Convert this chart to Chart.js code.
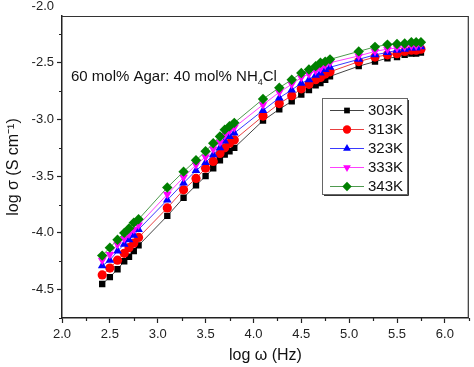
<!DOCTYPE html>
<html>
<head>
<meta charset="utf-8">
<script src="https://cdn.jsdelivr.net/npm/chart.js@4/dist/chart.umd.min.js"></script>
<style>
html,body{margin:0;padding:0;background:#fff;}
#wrap{width:474px;height:367px;position:relative;}
</style>
</head>
<body>
<div id="wrap"><canvas id="c" width="474" height="367"></canvas></div>
<script>
// ---- data ----
const logFreq = [2.42, 2.5, 2.58, 2.65, 2.7, 2.75, 2.8, 3.1, 3.27, 3.4, 3.5, 3.58, 3.65, 3.7, 3.75, 3.8, 4.1, 4.27, 4.4, 4.5, 4.58, 4.65, 4.7, 4.75, 4.8, 5.1, 5.27, 5.4, 5.5, 5.58, 5.65, 5.7, 5.75];
const s303K = [-4.45, -4.39, -4.32, -4.25, -4.21, -4.16, -4.11, -3.85, -3.69, -3.58, -3.50, -3.43, -3.36, -3.31, -3.28, -3.25, -3.01, -2.91, -2.84, -2.78, -2.74, -2.70, -2.68, -2.65, -2.62, -2.53, -2.49, -2.46, -2.45, -2.43, -2.42, -2.42, -2.41];
const s313K = [-4.37, -4.31, -4.24, -4.18, -4.13, -4.09, -4.04, -3.78, -3.62, -3.52, -3.43, -3.37, -3.30, -3.25, -3.21, -3.18, -2.97, -2.86, -2.79, -2.73, -2.69, -2.65, -2.63, -2.60, -2.58, -2.49, -2.45, -2.43, -2.42, -2.40, -2.39, -2.39, -2.38];
const s323K = [-4.29, -4.24, -4.16, -4.10, -4.06, -4.02, -3.97, -3.71, -3.56, -3.45, -3.38, -3.31, -3.25, -3.19, -3.15, -3.12, -2.92, -2.81, -2.74, -2.68, -2.65, -2.61, -2.59, -2.56, -2.54, -2.47, -2.43, -2.41, -2.39, -2.38, -2.37, -2.37, -2.36];
const s333K = [-4.24, -4.19, -4.10, -4.05, -4.01, -3.97, -3.93, -3.66, -3.51, -3.40, -3.33, -3.26, -3.20, -3.14, -3.10, -3.07, -2.87, -2.76, -2.69, -2.63, -2.60, -2.57, -2.55, -2.52, -2.50, -2.44, -2.40, -2.38, -2.37, -2.36, -2.35, -2.35, -2.34];
const s343K = [-4.20, -4.13, -4.06, -4.00, -3.96, -3.91, -3.88, -3.60, -3.46, -3.36, -3.28, -3.21, -3.15, -3.09, -3.06, -3.03, -2.82, -2.72, -2.65, -2.59, -2.56, -2.53, -2.50, -2.49, -2.47, -2.40, -2.36, -2.34, -2.335, -2.33, -2.32, -2.32, -2.32];
const seriesLabels = ['303K', '313K', '323K', '333K', '343K'];
const seriesValues = [s303K, s313K, s323K, s333K, s343K];
const xTicks = [2.0, 2.5, 3.0, 3.5, 4.0, 4.5, 5.0, 5.5, 6.0];
const xMinorTicks = [2.25, 2.75, 3.25, 3.75, 4.25, 4.75, 5.25, 5.75, 6.25];
const yTicks = [-4.5, -4.0, -3.5, -3.0, -2.5, -2.0];
const yMinorTicks = [-4.75, -4.25, -3.75, -3.25, -2.75, -2.25];
const xTitle = 'log \u03c9 (Hz)';
const yTitle = 'log \u03c3 (S cm\u207b\u00b9)';
const noteMain = '60 mol% Agar: 40 mol% NH';
const noteSub = '4';
const noteEnd = 'Cl';

// ---- styles ----
const markerColors = ['#000000', '#ff0000', '#0000ff', '#ff00ff', '#008000'];
const lineColors = ['#444444', '#e84040', '#3a3aff', '#ff40ff', '#4f9a4f'];
const markerStyles = ['rect', 'circle', 'triangle', 'triangle', 'rectRot'];
const markerRot = [0, 0, 0, 180, 0];
const markerRadius = [4.5, 4.6, 5, 5, 5.2];
const FONT = '"Liberation Sans", Arial, sans-serif';

const datasets = seriesLabels.map((lab, i) => ({
  label: lab,
  data: logFreq.map((x, j) => ({x: x, y: seriesValues[i][j]})),
  showLine: true,
  borderColor: lineColors[i],
  borderWidth: 1,
  backgroundColor: markerColors[i],
  pointBackgroundColor: markerColors[i],
  pointBorderColor: markerColors[i],
  pointBorderWidth: 0,
  pointStyle: markerStyles[i],
  pointRotation: markerRot[i],
  pointRadius: markerRadius[i],
  pointHoverRadius: markerRadius[i],
  order: 4 - i
}));

const decor = {
  id: 'decor',
  afterDraw(chart) {
    const ctx = chart.ctx;
    const a = chart.chartArea;
    const xs = chart.scales.x, ys = chart.scales.y;
    ctx.save();
    // frame top & right
    ctx.strokeStyle = '#333';
    ctx.lineWidth = 1.2;
    ctx.beginPath();
    ctx.moveTo(a.left, a.top + 0.5);
    ctx.lineTo(a.right - 0.5, a.top + 0.5);
    ctx.lineTo(a.right - 0.5, a.bottom);
    ctx.stroke();
    // minor ticks
    ctx.strokeStyle = '#222';
    ctx.lineWidth = 1.2;
    ctx.beginPath();
    xMinorTicks.forEach(v => {
      const px = Math.round(xs.getPixelForValue(v)) + 0.5;
      ctx.moveTo(px, a.bottom); ctx.lineTo(px, a.bottom + 3);
    });
    yMinorTicks.forEach(v => {
      const py = Math.round(ys.getPixelForValue(v)) + 0.5;
      ctx.moveTo(a.left, py); ctx.lineTo(a.left - 3, py);
    });
    ctx.stroke();
    // annotation text
    ctx.fillStyle = '#111';
    ctx.textBaseline = 'alphabetic';
    ctx.textAlign = 'left';
    ctx.font = '15px ' + FONT;
    let tx = 71, ty = 81;
    ctx.fillText(noteMain, tx, ty);
    tx += ctx.measureText(noteMain).width;
    ctx.font = '9px ' + FONT;
    ctx.fillText(noteSub, tx, ty + 4);
    tx += ctx.measureText(noteSub).width;
    ctx.font = '15px ' + FONT;
    ctx.fillText(noteEnd, tx, ty);
    // legend
    const lx = 322, ly = 98, lw = 85, lh = 96;
    ctx.fillStyle = '#fff';
    ctx.fillRect(lx, ly, lw, lh);
    ctx.strokeStyle = '#666';
    ctx.lineWidth = 1;
    ctx.strokeRect(lx + 0.5, ly + 0.5, lw, lh);
    ctx.strokeStyle = '#333';
    ctx.beginPath();
    ctx.moveTo(lx + lw + 1.5, ly + 2); ctx.lineTo(lx + lw + 1.5, ly + lh + 1.5); ctx.lineTo(lx + 2, ly + lh + 1.5);
    ctx.stroke();
    chart.data.datasets.forEach((ds, i) => {
      const yy = ly + 12 + i * 19;
      ctx.strokeStyle = lineColors[i];
      ctx.lineWidth = 1;
      ctx.beginPath();
      ctx.moveTo(lx + 8, yy + 0.5); ctx.lineTo(lx + 42, yy + 0.5);
      ctx.stroke();
      ctx.fillStyle = markerColors[i];
      ctx.strokeStyle = markerColors[i];
      Chart.helpers.drawPoint(ctx, {
        pointStyle: markerStyles[i], rotation: markerRot[i],
        radius: markerRadius[i] * 0.9, borderWidth: 0
      }, lx + 25, yy + 0.5);
      ctx.fillStyle = '#111';
      ctx.font = '15px ' + FONT;
      ctx.textBaseline = 'middle';
      ctx.fillText(ds.label, lx + 46, yy + 1);
    });
    ctx.restore();
  }
};

new Chart(document.getElementById('c'), {
  type: 'scatter',
  data: { datasets: datasets },
  options: {
    responsive: false,
    animation: false,
    events: [],
    layout: { padding: { left: 0, right: 3, top: 16, bottom: 0 } },
    plugins: { legend: { display: false }, tooltip: { enabled: false } },
    scales: {
      x: {
        type: 'linear',
        min: 2.0, max: 6.25,
        afterFit: s => { s.height = 49; },
        afterBuildTicks: s => { s.ticks = xTicks.map(v => ({value: v})); },
        border: { display: true, color: '#222', width: 1.5 },
        grid: { drawOnChartArea: false, drawTicks: true, tickLength: 5, tickWidth: 1.2, tickColor: '#222' },
        ticks: {
          padding: 4, color: '#222', font: { family: FONT, size: 13 },
          maxRotation: 0, autoSkip: false,
          callback: v => Number(v).toFixed(1)
        },
        title: { display: true, text: xTitle, color: '#111', font: { family: FONT, size: 16 }, padding: { top: 0, bottom: 2 } }
      },
      y: {
        type: 'linear',
        min: -4.75, max: -2.088,
        afterFit: s => { s.width = 62; },
        afterBuildTicks: s => { s.ticks = yTicks.map(v => ({value: v})); },
        border: { display: true, color: '#222', width: 1.5 },
        grid: {
          drawOnChartArea: false, drawTicks: true, tickLength: 5, tickWidth: 1.2,
          tickColor: c => (c.tick && c.tick.value > -2.05) ? 'rgba(0,0,0,0)' : '#222'
        },
        ticks: {
          padding: 3, color: '#222', font: { family: FONT, size: 13 },
          autoSkip: false,
          callback: v => Number(v).toFixed(1)
        },
        title: { display: true, text: yTitle, color: '#111', font: { family: FONT, size: 16 }, padding: { top: 4, bottom: 0 } }
      }
    }
  },
  plugins: [decor]
});
</script>
</body>
</html>
